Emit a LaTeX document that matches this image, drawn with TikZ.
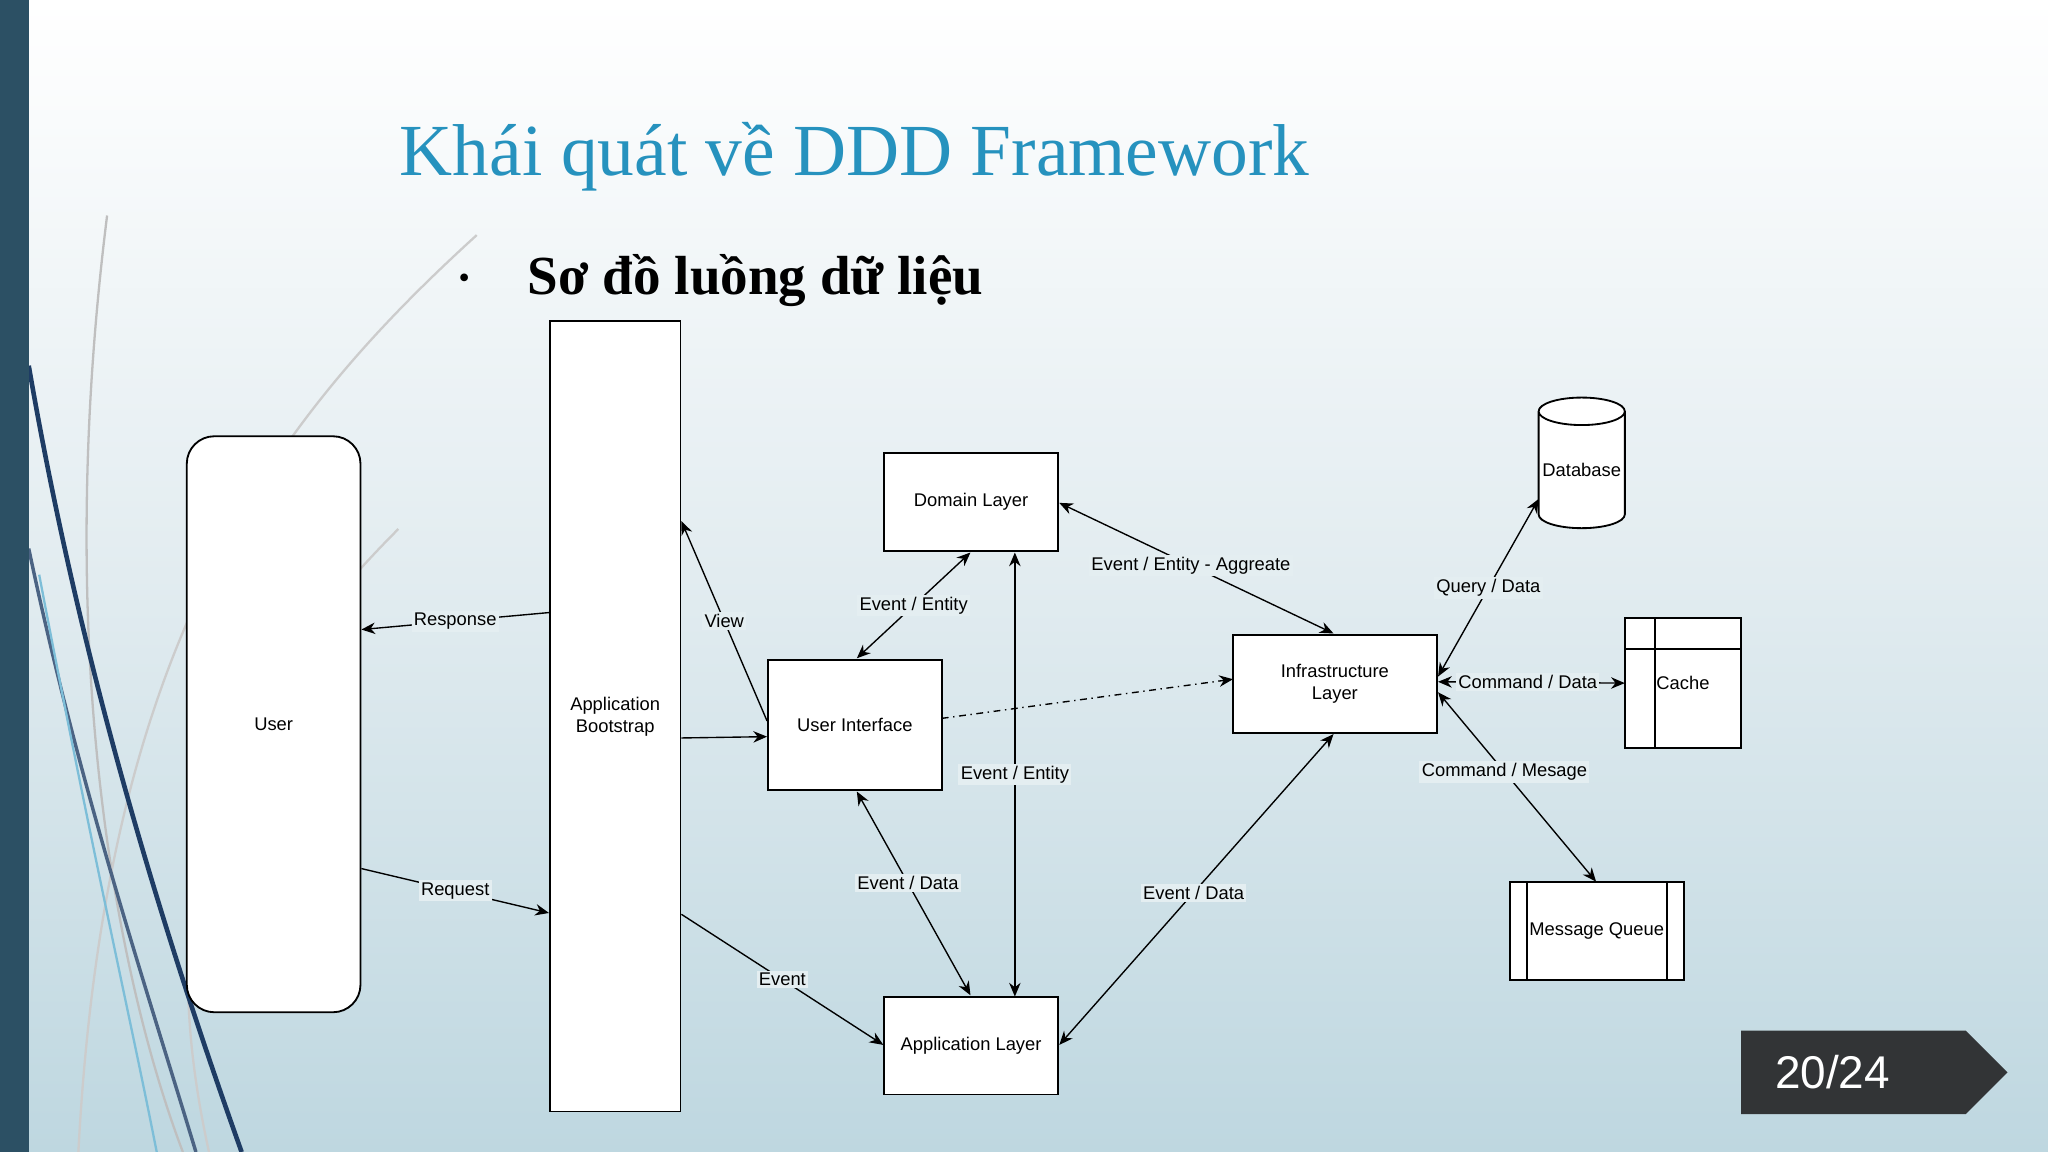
\documentclass[tikz,border=0pt]{standalone}
\usepackage{fontspec}
\setmainfont{Liberation Serif}
\newfontfamily\arialf{Liberation Sans}
\usetikzlibrary{arrows.meta,shapes.geometric}
\definecolor{titleblue}{RGB}{38,146,190}
\definecolor{barblue}{RGB}{44,80,100}
\definecolor{bgbot}{RGB}{190,215,224}
\definecolor{bgmid}{RGB}{226,236,240}
\definecolor{lblbg}{RGB}{228,238,241}
\definecolor{navy}{RGB}{30,60,100}
\definecolor{pagegray}{RGB}{50,52,54}
\tikzset{
  box/.style={draw=black,fill=white,line width=0.8pt,inner sep=0pt,font=\arialf\fontsize{8}{9.5}\selectfont,align=center},
  conn/.style={line width=0.6pt,-{Stealth[length=6pt,width=5pt]}},
  bconn/.style={line width=0.6pt,{Stealth[length=6pt,width=5pt]}-{Stealth[length=6pt,width=5pt]}},
  lbl/.style={fill=lblbg,inner sep=1pt,font=\arialf\fontsize{8}{9.5}\selectfont},
  deco/.style={line width=1pt}
}
\begin{document}
\begin{tikzpicture}[x=0.02cm,y=-0.02cm]
\useasboundingbox (0,0) rectangle (1568,882);
\shade[top color=white,bottom color=bgbot,middle color=bgmid] (0,0) rectangle (1568,882);
% decorative curves
\draw[deco,color=gray!50] (82,165) .. controls (40,500) and (90,750) .. (140,882);
\draw[deco,color=gray!40] (365,180) .. controls (200,330) and (80,500) .. (60,882);
\draw[deco,color=gray!40] (305,405) .. controls (150,560) and (120,700) .. (160,882);
\draw[line width=2pt,color=navy] (22,280) .. controls (60,500) and (120,700) .. (185,882);
\draw[line width=1.5pt,color=navy!80] (22,420) .. controls (60,600) and (110,750) .. (150,882);
\draw[deco,color=titleblue!60] (30,440) .. controls (70,650) and (100,780) .. (120,882);
\fill[barblue] (0,0) rectangle (22,882);
% title
\node[anchor=west,text=titleblue,font=\fontsize{32}{36}\selectfont] (title) at (300,120) {Khái quát về DDD Framework};
\node[anchor=west,font=\fontsize{14}{16}\selectfont] (bul) at (345,215) {•};
\node[anchor=west,font=\bfseries\fontsize{24}{28}\selectfont] (sub) at (398,215) {Sơ đồ luồng dữ liệu};
% page number
\fill[pagegray] (1333,789) -- (1505,789) -- (1537,821) -- (1505,853) -- (1333,853) -- cycle;
\node[text=white,font=\arialf\fontsize{20}{24}\selectfont] (pg) at (1403,821) {20/24};
% nodes
\node[box,rounded corners=12pt,minimum width=133*0.02cm,minimum height=441*0.02cm] (user) at (209.5,554.5) {User};
\node[box,minimum width=100*0.02cm,minimum height=605*0.02cm] (boot) at (471,548.5) {Application\\Bootstrap};
\node[box,minimum width=133*0.02cm,minimum height=75*0.02cm] (dom) at (743.5,384.5) {Domain Layer};
\node[box,minimum width=133*0.02cm,minimum height=100*0.02cm] (ui) at (654.5,555) {User Interface};
\node[box,minimum width=133*0.02cm,minimum height=75*0.02cm] (app) at (743.5,800.5) {Application Layer};
\node[box,minimum width=156*0.02cm,minimum height=75*0.02cm] (inf) at (1022,523.5) {Infrastructure\\Layer};
\node[box,cylinder,shape border rotate=90,aspect=0.35,minimum width=66*0.02cm,minimum height=100*0.02cm] (db) at (1211,360) {Database};
\node[box,minimum width=89*0.02cm,minimum height=100*0.02cm] (cache) at (1288.5,523) {Cache};
\draw[line width=0.8pt] (1267,473) -- (1267,573) (1244,497) -- (1333,497);
\node[box,minimum width=133*0.02cm,minimum height=75*0.02cm] (mq) at (1222.5,712.5) {Message Queue};
\draw[line width=0.8pt] (1169,675) -- (1169,750) (1276,675) -- (1276,750);
% connectors
\draw[conn] (boot.west |- 0,469) -- node[lbl]{Response} (user.east |- 0,482);
\draw[conn] (user.east |- 0,665) -- node[lbl]{Request} (boot.west |- 0,699);
\draw[conn] (ui.west |- 0,552) -- node[lbl,pos=0.5]{View} (boot.east |- 0,399);
\draw[conn] (boot.east |- 0,565) -- (ui.west |- 0,564);
\draw[conn] (boot.east |- 0,700) -- node[lbl]{Event} (app.west |- 0,800);
\draw[bconn] (656,504) -- node[lbl]{Event / Entity} (743,423);
\draw[bconn] (777,423) -- node[lbl,pos=0.5]{Event / Entity} (777,763);
\draw[bconn] (656,606) -- node[lbl,pos=0.45]{Event / Data} (743,762);
\draw[bconn] (811,385) -- node[lbl,pos=0.48]{Event / Entity - Aggreate} (1021,485);
\draw[bconn] (811,800) -- node[lbl,pos=0.49]{Event / Data} (1021,562);
\draw[line width=0.6pt,dash dot,-{Stealth[length=6pt,width=5pt]}] (721,550) -- (944,520);
\draw[bconn] (1101,518) -- node[lbl,pos=0.5]{Query / Data} (1178,382);
\draw[bconn] (1101,522) -- node[lbl,pos=0.48]{Command / Data} (1244,523);
\draw[bconn] (1101,530) -- node[lbl,pos=0.42]{Command / Mesage} (1222,675);
\end{tikzpicture}
\end{document}
